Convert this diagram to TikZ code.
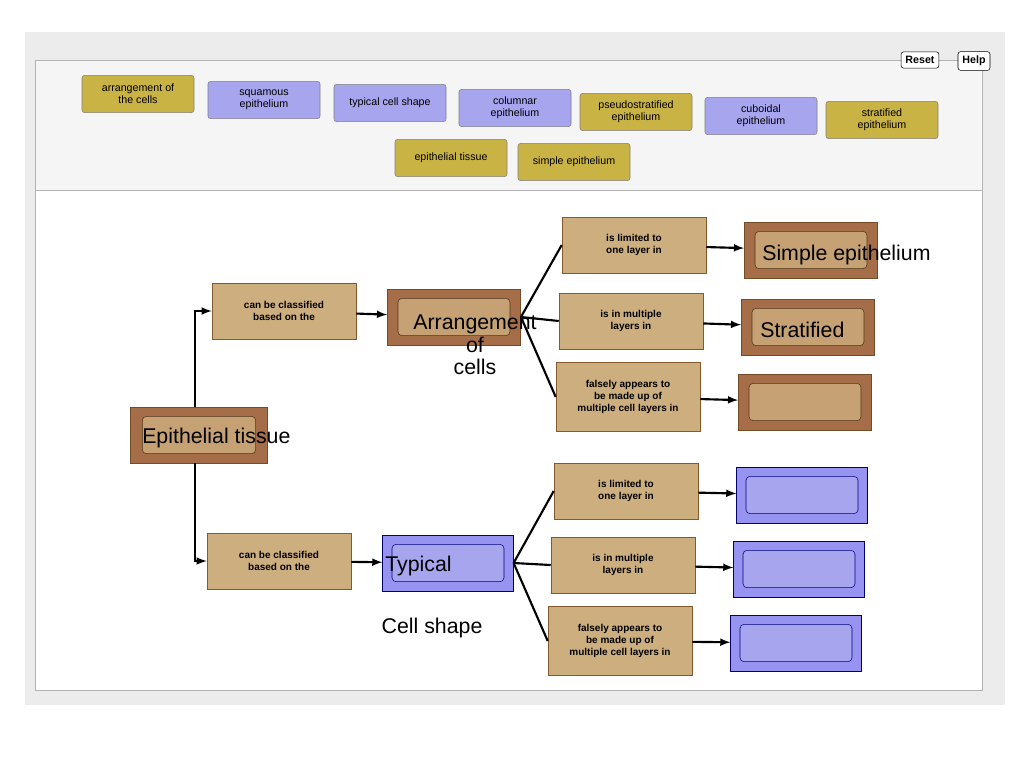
\documentclass[tikz,border=0pt]{standalone}
\usepackage{fontspec}
\setmainfont{Liberation Sans}
\definecolor{olivec}{HTML}{C9B344}
\definecolor{tanc}{HTML}{CDAE7E}
\definecolor{brownc}{HTML}{A66E48}
\definecolor{purpc}{HTML}{A7A5EE}
\begin{document}
\begin{tikzpicture}[x=0.75pt,y=-0.75pt,
 chipO/.style={draw=black!50,fill=olivec,rounded corners=2pt,align=center,font=\fontsize{8}{9}\selectfont,minimum width=84pt,minimum height=28pt,inner sep=1pt},
 chipP/.style={chipO,fill=purpc},
 tan/.style={draw=brown!70!black,fill=tanc,align=center,font=\bfseries\fontsize{7.5}{9}\selectfont,minimum width=108pt,minimum height=42pt,inner sep=1pt},
 res/.style={draw=brown!60!black,fill=brownc,minimum width=100pt,minimum height=42pt,inner sep=0pt},
 resP/.style={draw=blue!40!black,fill=purpc!90!blue,minimum width=98pt,minimum height=42pt,inner sep=0pt},
 inr/.style={rounded corners=3pt,minimum width=84pt,minimum height=28pt,inner sep=1pt},
 hand/.style={font=\fontsize{16}{17}\selectfont,align=center,inner sep=0pt},
 ln/.style={line width=1.6pt,black},
 ar/.style={ln,-latex}]
\useasboundingbox (0,0) rectangle (1024,768);
\fill[white] (0,0) rectangle (1024,768);
\fill[gray!15] (25,32) rectangle (1005,705);
\fill[white] (35,60) rectangle (982,690);
\draw[gray!60] (35,60) rectangle (982,690);
\fill[gray!8] (36,61) rectangle (981,190);
\draw[gray!60] (35,190) -- (982,190);
\node[draw,rounded corners=2pt,fill=white,font=\bfseries\fontsize{8}{9}\selectfont] (reset) at (920,60) {Reset};
\node[draw,rounded corners=2pt,fill=white,font=\bfseries\fontsize{8}{9}\selectfont] (help) at (974,61) {Help};
\node[chipO] (c1) at (138,94) {arrangement of\\the cells};
\node[chipP] (c2) at (264,100) {squamous\\epithelium};
\node[chipP] (c3) at (390,103) {typical cell shape};
\node[chipP] (c4) at (515,108) {columnar\\epithelium};
\node[chipO] (c5) at (636,112) {pseudostratified\\epithelium};
\node[chipP] (c6) at (761,116) {cuboidal\\epithelium};
\node[chipO] (c7) at (882,120) {stratified\\epithelium};
\node[chipO] (c8) at (451,158) {epithelial tissue};
\node[chipO] (c9) at (574,162) {simple epithelium};
\node[res,minimum width=103pt] (root) at (199,435) {};
\node[inr,draw=brown!40!black,fill=tanc!80!brownc,minimum width=85pt] (rooti) at (199,435) {};
\node[hand,anchor=west] (rt) at (142,438) {Epithelial tissue};
\node[tan] (cb1) at (284,311) {can be classified\\based on the};
\node[tan] (cb2) at (279,561) {can be classified\\based on the};
\node[res] (arr) at (454,317) {};
\node[inr,draw=brown!40!black,fill=tanc!80!brownc] (arri) at (454,317) {};
\node[hand] (arrt) at (475,345) {Arrangement\\of\\cells};
\node[resP] (typ) at (448,563) {};
\node[inr,draw=blue!50!black,fill=purpc] (typi) at (448,563) {};
\node[hand,anchor=west] (typt) at (385,566) {Typical};
\node[hand] (typt2) at (432,628) {Cell shape};
\node[tan] (t1) at (634,245) {is limited to\\one layer in};
\node[tan] (t2) at (631,321) {is in multiple\\layers in};
\node[tan,minimum height=52pt] (t3) at (628,397) {falsely appears to\\be made up of\\multiple cell layers in};
\node[tan] (b1) at (626,491) {is limited to\\one layer in};
\node[tan] (b2) at (623,565) {is in multiple\\layers in};
\node[tan,minimum height=52pt] (b3) at (620,641) {falsely appears to\\be made up of\\multiple cell layers in};
\foreach \n/\x/\y in {r1/811/250,r2/808/327,r3/805/402}{
 \node[res] (\n) at (\x,\y) {};
 \node[inr,draw=brown!40!black,fill=tanc!80!brownc] (\n i) at (\x,\y) {};}
\node[hand,anchor=west] (r1t) at (762,255) {Simple epithelium};
\node[hand,anchor=west] (r2t) at (760,330) {Stratified};
\foreach \n/\x/\y in {p1/802/495,p2/799/569,p3/796/643}{
 \node[resP] (\n) at (\x,\y) {};
 \node[inr,draw=blue!50!black,fill=purpc] (\n i) at (\x,\y) {};}
\draw[ar] (root.north -| 195,0) |- (cb1.west);
\draw[ar] (root.south -| 195,0) |- (cb2.west);
\draw[ar] (cb1) -- (arr);
\draw[ar] (cb2) -- (typ);
\draw[ln] (arr.east) -- (t1.west);
\draw[ln] (arr.east) -- (t2.west);
\draw[ln] (arr.east) -- (t3.west);
\draw[ln] (typ.east) -- (b1.west);
\draw[ln] (typ.east) -- (b2.west);
\draw[ln] (typ.east) -- (b3.west);
\draw[ar] (t1) -- (r1); \draw[ar] (t2) -- (r2); \draw[ar] (t3) -- (r3);
\draw[ar] (b1) -- (p1); \draw[ar] (b2) -- (p2); \draw[ar] (b3) -- (p3);
\end{tikzpicture}
\end{document}
